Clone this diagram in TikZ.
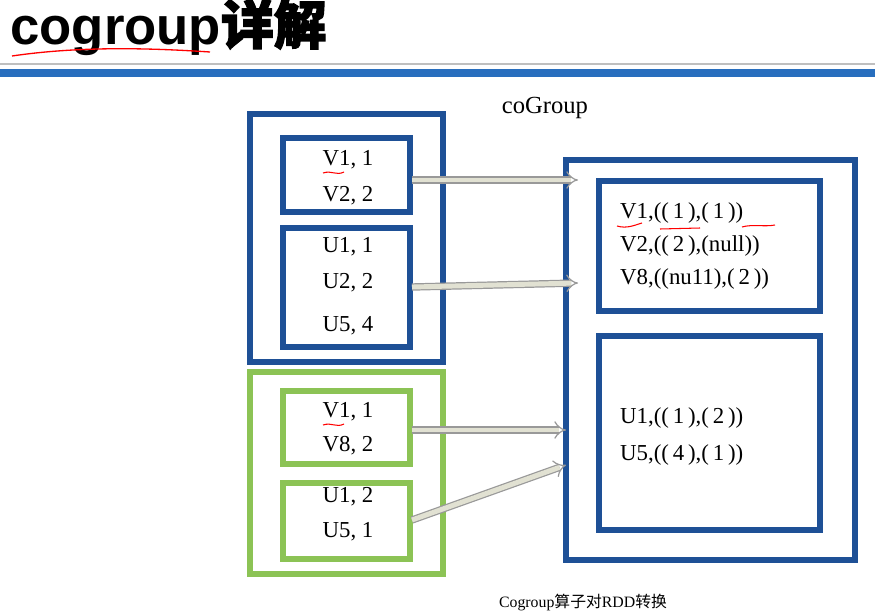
\documentclass[tikz,border=0pt]{standalone}
\usepackage{fontspec}
\setmainfont{Liberation Serif}
\newfontfamily\titlefont{Liberation Sans}
\newfontfamily\cjk{Noto Sans CJK SC}
\newfontfamily\cjkbold[FakeBold=2.5]{Noto Sans CJK SC}
\usetikzlibrary{arrows.meta}
\definecolor{boxblue}{RGB}{30,80,150}
\definecolor{boxgreen}{RGB}{140,195,85}
\definecolor{barblue}{RGB}{40,110,190}
\definecolor{arrowfill}{RGB}{225,225,210}
\tikzset{
  bluebox/.style={draw=boxblue,line width=3.7pt},
  greenbox/.style={draw=boxgreen,line width=3.7pt},
  entry/.style={font=\fontsize{13}{13}\selectfont},
  flow/.style={draw=gray!80,double=arrowfill,double distance=2.8pt,line width=0.7pt,-{Implies[length=5mm]}},
  redmark/.style={red,line width=0.6pt},
}
\begin{document}
\begin{tikzpicture}[x=0.02cm,y=-0.02cm]
\useasboundingbox (0,0) rectangle (875,612);
% title
\node[anchor=west,inner sep=0] (title) at (10,27) {\titlefont\bfseries\fontsize{30}{30}\selectfont cogroup\cjkbold 详解};
\draw[redmark,line width=0.75pt] (12,56) .. controls (80,46) and (150,48) .. (210,52);
\draw[gray!50,line width=0.6pt] (0,64) -- (875,64);
\fill[barblue] (0,69) rectangle (875,77);
\node (cogroup) at (545,108) {\fontsize{14}{14}\selectfont coGroup};
% left, blue
\draw[bluebox] (250,114) rectangle (443,362);
\draw[bluebox] (283,138) rectangle (410,212);
\draw[bluebox] (283,228) rectangle (410,347);
\node[entry] (lv1) at (348,160) {V1, 1};
\node[entry] (lv2) at (348,196) {V2, 2};
\node[entry] (lu1) at (348,247) {U1, 1};
\node[entry] (lu2) at (348,283) {U2, 2};
\node[entry] (lu5) at (348,326) {U5, 4};
% left, green
\draw[greenbox] (250,372) rectangle (443,574);
\draw[greenbox] (283,391) rectangle (410,464);
\draw[greenbox] (283,483) rectangle (410,559);
\node[entry] (gv1) at (348,412) {V1, 1};
\node[entry] (gv8) at (348,446) {V8, 2};
\node[entry] (gu1) at (348,497) {U1, 2};
\node[entry] (gu5) at (348,532) {U5, 1};
% right
\draw[bluebox] (566,160) rectangle (855,560);
\draw[bluebox] (599,181) rectangle (820,311);
\draw[bluebox] (599,336) rectangle (820,530);
\node[entry,anchor=west] (rv1) at (614,213) {V1,((\,1\,),(\,1\,))};
\node[entry,anchor=west] (rv2) at (614,246) {V2,((\,2\,),(null))};
\node[entry,anchor=west] (rv8) at (614,279) {V8,((nu11),(\,2\,))};
\node[entry,anchor=west] (ru1) at (614,418) {U1,((\,1\,),(\,2\,))};
\node[entry,anchor=west] (ru5) at (614,455) {U5,((\,4\,),(\,1\,))};
% arrows
\coordinate (t1) at (578,180);
\coordinate (t2) at (578,283);
\coordinate (t3) at (566,430);
\coordinate (t4) at (566,465);
\draw[flow] (412,180) -- (t1);
\draw[flow] (412,287) -- (t2);
\draw[flow] (412,430) -- (t3);
\draw[flow] (412,520) -- (t4);
% red marks
\draw[redmark] (323,173) .. controls (332,170) and (336,176) .. (344,172);
\draw[redmark] (323,425) .. controls (332,422) and (336,428) .. (344,424);
\draw[redmark] (617,226) .. controls (627,229) and (635,225) .. (642,223);
\draw[redmark] (660,229) -- (700,228);
\draw[redmark] (742,227) .. controls (752,224) and (765,227) .. (775,225);
% caption
\node (caption) at (583,603) {\fontsize{9}{9}\selectfont Cogroup{\cjk 算子对}RDD{\cjk 转换}};
\end{tikzpicture}
\end{document}
